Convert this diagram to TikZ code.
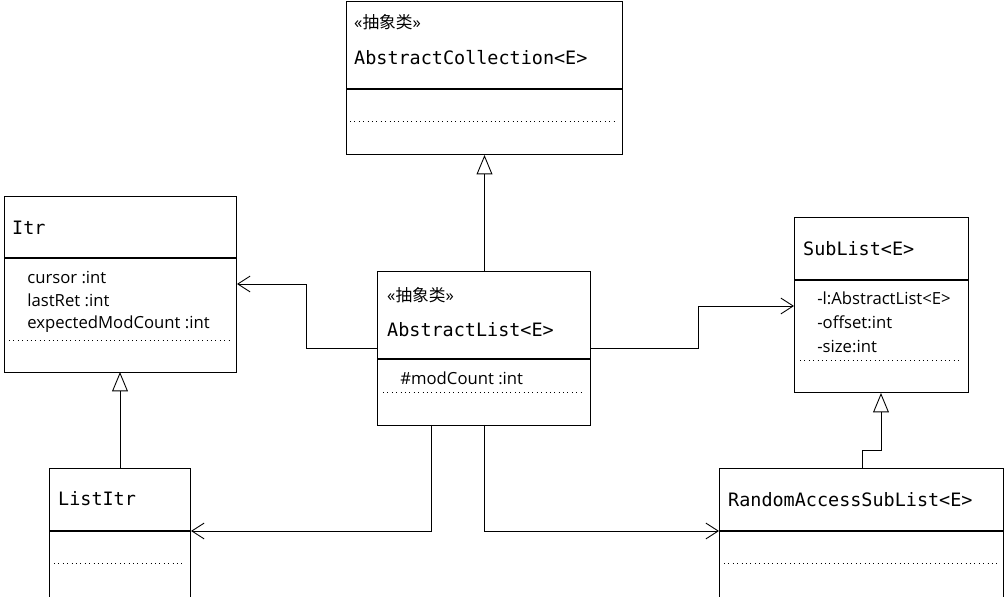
\documentclass[tikz,border=0pt]{standalone}
\usepackage{fontspec}
\setmainfont{Open Sans}
\newfontfamily\cnfont{Noto Sans CJK SC}
\newfontfamily\codefont{DejaVu Sans Mono}
\usetikzlibrary{positioning,arrows.meta}

\begin{document}
\begin{tikzpicture}[x=0.02cm,y=-0.02cm,
cls/.style={draw,rectangle,anchor=north west,inner sep=0pt,line width=0.6pt},
cname/.style={anchor=west,font=\codefont\fontsize{10.5}{12}\selectfont},
stereo/.style={anchor=west,font=\fontsize{9.5}{11}\selectfont},
attr/.style={anchor=west,font=\fontsize{9.5}{11}\selectfont,inner sep=0pt},
sep/.style={line width=0.6pt},
dots/.style={dotted,line width=0.5pt},
assoc/.style={-{Straight Barb[length=7pt,width=9pt]},line width=0.5pt},
gen/.style={-{Triangle[open,length=11pt,width=9pt]},line width=0.5pt}]
\useasboundingbox (0,0) rectangle (1005,597);
% classes
\node (coll) [cls,minimum width=5.52cm,minimum height=3.06cm] at (346,1) {};
\node (itr) [cls,minimum width=4.64cm,minimum height=3.52cm] at (4,196) {};
\node (alist) [cls,minimum width=4.26cm,minimum height=3.08cm] at (377,271) {};
\node (sub) [cls,minimum width=3.48cm,minimum height=3.5cm] at (794,217) {};
\node (litr) [cls,minimum width=2.82cm,minimum height=2.58cm] at (49,468) {};
\node (rasub) [cls,minimum width=5.68cm,minimum height=2.58cm] at (719,468) {};
% compartments
\draw[sep] (346,89) -- (622,89);  \draw[dots] (350,121) -- (617,121);
\draw[sep] (4,258) -- (236,258);  \draw[dots] (9,340) -- (231,340);
\draw[sep] (377,359) -- (590,359);  \draw[dots] (383,392) -- (584,392);
\draw[sep] (794,280) -- (968,280);  \draw[dots] (800,360) -- (962,360);
\draw[sep] (49,531) -- (190,531);  \draw[dots] (54,563) -- (185,563);
\draw[sep] (719,531) -- (1003,531);  \draw[dots] (724,563) -- (998,563);
% labels
\node (collst) [stereo] at (348,22) {<<{\cnfont 抽象类}>>};
\node (collnm) [cname] at (348,58) {AbstractCollection<E>};
\node (itrnm) [cname] at (6,228) {Itr};
\node (itra) [attr] at (27,277) {cursor :int};
\node (itrb) [attr] at (27,300) {lastRet :int};
\node (itrc) [attr] at (27,324) {expectedModCount :int};
\node (alistst) [stereo] at (381,295) {<<{\cnfont 抽象类}>>};
\node (alistnm) [cname] at (381,330) {AbstractList<E>};
\node (alista) [attr] at (400,378) {\#modCount :int};
\node (subnm) [cname] at (797,249) {SubList<E>};
\node (suba) [attr] at (817,298) {-l:AbstractList<E>};
\node (subb) [attr] at (817,322) {-offset:int};
\node (subc) [attr] at (817,346) {-size:int};
\node (litrnm) [cname] at (52,499) {ListItr};
\node (rasubnm) [cname] at (722,500) {RandomAccessSubList<E>};
% relations
\coordinate (c1) at (306,348); \coordinate (c2) at (306,284);
\coordinate (c3) at (698,348); \coordinate (c4) at (698,306);
\coordinate (c5) at (431,425); \coordinate (c6) at (431,531);
\coordinate (c7) at (484,425); \coordinate (c8) at (484,531);
\coordinate (c9) at (862,450); \coordinate (c10) at (881,450);
\draw[gen] (alist.north -| coll.south) -- (coll.south);
\draw[assoc] (alist.west |- c1) -- (c1) -- (c2) -- (itr.east |- c2);
\draw[assoc] (alist.east |- c3) -- (c3) -- (c4) -- (sub.west |- c4);
\draw[assoc] (c5) -- (c6) -- (litr.east |- c6);
\draw[assoc] (c7) -- (c8) -- (rasub.west |- c8);
\draw[gen] (120,468) -- (120,372);
\draw[gen] (rasub.north -| c9) -- (c9) -- (c10) -- (sub.south -| c10);
\end{tikzpicture}
\end{document}
